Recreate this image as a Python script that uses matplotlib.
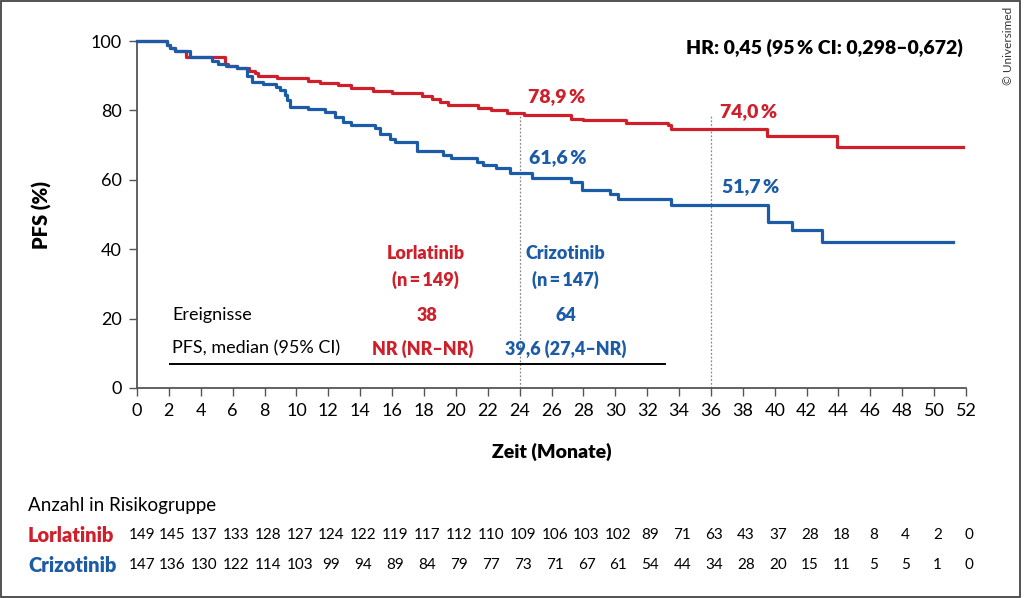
import matplotlib
matplotlib.use("Agg")
import matplotlib.pyplot as plt
from matplotlib.patches import Rectangle

plt.rcParams['font.family'] = ['Lato', 'DejaVu Sans']

RED = '#cf1f2a'
BLUE = '#1c5ba6'
BW = 'heavy'

# Kaplan-Meier Stufen (Monate, PFS %)
t_lor = [0, 1.9, 2.1, 2.4, 3.1, 5.55, 5.7, 6.3, 7.0, 7.4, 7.6, 8.8, 10.7, 11.5, 12.6,
         13.4, 14.8, 16.0, 17.9, 18.5, 19.0, 19.5, 21.4, 22.2, 23.2, 24.3, 27.2, 28.0,
         30.7, 33.3, 33.5, 39.5, 43.9, 51.8]
s_lor = [100, 98.8, 97.9, 97.1, 95.3, 93.5, 92.8, 92.1, 91.4, 90.7, 89.8, 89.2, 88.5, 88.0, 87.2,
         86.4, 85.7, 84.9, 84.1, 83.4, 82.5, 81.6, 80.8, 80.1, 79.2, 78.7, 77.6, 77.2,
         76.3, 75.8, 74.6, 72.6, 69.4, 69.4]

t_cri = [0, 1.9, 2.1, 2.4, 3.3, 4.7, 5.1, 5.6, 6.3, 6.9, 7.2, 7.9, 8.7, 9.0, 9.3, 9.4, 9.6,
         10.75, 11.8, 12.4, 12.9, 13.4, 14.9, 15.25, 15.9, 16.2, 17.55, 19.2, 19.7, 21.3,
         21.7, 22.5, 23.4, 24.8, 27.2, 27.9, 29.7, 30.2, 33.5, 39.6, 41.1, 42.95, 51.2]
s_cri = [100, 98.8, 97.9, 97.2, 95.3, 94.3, 93.5, 92.8, 92.1, 89.8, 88.3, 87.6, 86.8, 85.9, 84.4, 83.0, 81.1,
         80.3, 79.4, 78.0, 76.7, 75.8, 74.8, 73.2, 71.9, 71.0, 68.4, 67.1, 66.2, 65.2,
         64.3, 63.5, 61.9, 60.6, 59.5, 57.1, 55.9, 54.4, 52.6, 47.9, 45.5, 42.2, 42.2]

# Landmarks
landmarks = [24, 36]
lm_lor = ['78,9\u2009%', '74,0\u2009%']
lm_cri = ['61,6\u2009%', '51,7\u2009%']

x_ticks = list(range(0, 53, 2))
risk_lor = [149, 145, 137, 133, 128, 127, 124, 122, 119, 117, 112, 110, 109, 106,
            103, 102, 89, 71, 63, 43, 37, 28, 18, 8, 4, 2, 0]
risk_cri = [147, 136, 130, 122, 114, 103, 99, 94, 89, 84, 79, 77, 73, 71,
            67, 61, 54, 44, 34, 28, 20, 15, 11, 5, 5, 1, 0]

W, H = 1024, 598
fig = plt.figure(figsize=(W / 100, H / 100), dpi=100)
ax = fig.add_axes([137 / W, (H - 388) / H, (966 - 137) / W, (388 - 41) / H])

ax.step(t_lor, s_lor, where='post', color=RED, lw=2.3, clip_on=False, zorder=3)
ax.step(t_cri, s_cri, where='post', color=BLUE, lw=2.3, clip_on=False, zorder=3)

for m in landmarks:
    ax.plot([m, m], [0, 78.7], color='#888888', lw=0.9, ls=(0, (1.5, 1.5)), zorder=1)

ax.text(24.5, 84.0, lm_lor[0], color=RED, fontsize=14, fontweight=BW, va='center')
ax.text(36.6, 79.6, lm_lor[1], color=RED, fontsize=14, fontweight=BW, va='center')
ax.text(24.6, 66.3, lm_cri[0], color=BLUE, fontsize=14, fontweight=BW, va='center')
ax.text(36.7, 58.0, lm_cri[1], color=BLUE, fontsize=14, fontweight=BW, va='center')

ax.text(51.8, 98.0, 'HR: 0,45 (95\u2009% CI: 0,298\u20130,672)', fontsize=14,
        fontweight=BW, ha='right', va='center')

# Tabelle im Diagramm
ax.text(18.1, 38.9, 'Lorlatinib', color=RED, fontsize=13, fontweight=BW, ha='center', va='center')
ax.text(18.1, 31.1, '(n\u2009=\u2009149)', color=RED, fontsize=13, fontweight=BW, ha='center', va='center')
ax.text(26.9, 38.9, 'Crizotinib', color=BLUE, fontsize=13, fontweight=BW, ha='center', va='center')
ax.text(26.9, 31.1, '(n\u2009=\u2009147)', color=BLUE, fontsize=13, fontweight=BW, ha='center', va='center')
ax.text(2.2, 21.0, 'Ereignisse', fontsize=13, va='center')
ax.text(18.2, 21.0, '38', color=RED, fontsize=13, fontweight=BW, ha='center', va='center')
ax.text(26.9, 21.0, '64', color=BLUE, fontsize=13, fontweight=BW, ha='center', va='center')
ax.text(2.2, 11.4, 'PFS, median (95% CI)', fontsize=13, va='center')
ax.text(17.95, 11.4, 'NR (NR\u2013NR)', color=RED, fontsize=13, fontweight=BW, ha='center', va='center')
ax.text(26.9, 11.4, '39,6 (27,4\u2013NR)', color=BLUE, fontsize=13, fontweight=BW, ha='center', va='center')
ax.plot([2.1, 33.1], [6.9, 6.9], color='black', lw=1.4)

ax.set_xlim(0, 52)
ax.set_ylim(0, 100)
ax.set_xticks(x_ticks)
ax.set_yticks(range(0, 101, 20))
ax.spines['top'].set_visible(False)
ax.spines['right'].set_visible(False)
for s in ['left', 'bottom']:
    ax.spines[s].set_color('#555555')
    ax.spines[s].set_linewidth(1.3)
ax.tick_params(axis='both', length=6, width=1.0, color='#555555', labelsize=13, pad=5)
ax.set_xlabel('Zeit (Monate)', fontsize=14, fontweight=BW, labelpad=17)
fig.text(42 / W, 1 - 215 / H, 'PFS (%)', rotation=90, fontsize=14.5, fontweight=BW,
         ha='center', va='center')

# Anzahl in Risikogruppe
trans = ax.get_xaxis_transform()
fig.text(28 / W, 1 - 505 / H, 'Anzahl in Risikogruppe', fontsize=13.5, va='center')
fig.text(28 / W, 1 - 535 / H, 'Lorlatinib', fontsize=14.5, fontweight=BW, color=RED, va='center')
fig.text(28 / W, 1 - 565 / H, 'Crizotinib', fontsize=14.5, fontweight=BW, color=BLUE, va='center')
y_lor = -(535 - 388) / (388 - 41)
y_cri = -(565 - 388) / (388 - 41)
for xt, a, b in zip(x_ticks, risk_lor, risk_cri):
    dx = 0.3 if xt == 0 else 0.2
    ax.text(xt + dx, y_lor, str(a), transform=trans, fontsize=11, ha='center', va='center', clip_on=False)
    ax.text(xt + dx, y_cri, str(b), transform=trans, fontsize=11, ha='center', va='center', clip_on=False)

fig.text(1009 / W, 1 - 7 / H, '\u00a9 Universimed', rotation=90, fontsize=8.5,
         ha='center', va='top', color='#333333')

fig.patches.append(Rectangle((1 / W, 1 / H), 1019 / W, (H - 2) / H, transform=fig.transFigure,
                             fill=False, edgecolor='#444444', lw=1.3))

fig.savefig('out.png', dpi=100)
